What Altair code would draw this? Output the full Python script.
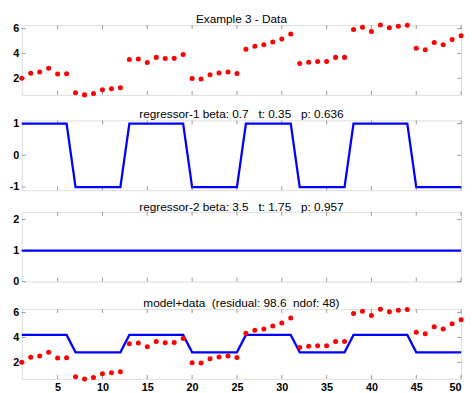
import altair as alt
import pandas as pd

# ---- data ----
X_VALS = list(range(1, 51))
DATA_VALS = [2.00, 2.40, 2.50, 2.81, 2.34, 2.36, 0.84, 0.66, 0.78, 1.07,
             1.15, 1.23, 3.50, 3.55, 3.26, 3.68, 3.58, 3.60, 3.92, 1.97,
             1.94, 2.28, 2.42, 2.50, 2.38, 4.34, 4.58, 4.69, 4.92, 5.16,
             5.56, 3.19, 3.29, 3.34, 3.34, 3.68, 3.68, 5.92, 6.11, 5.76,
             6.28, 6.06, 6.19, 6.26, 4.42, 4.29, 4.87, 4.69, 5.11, 5.42]
REG1_VALS = [1, 1, 1, 1, 1, 1, -1, -1, -1, -1, -1, -1,
             1, 1, 1, 1, 1, 1, 1, -1, -1, -1, -1, -1, -1,
             1, 1, 1, 1, 1, 1, -1, -1, -1, -1, -1, -1,
             1, 1, 1, 1, 1, 1, 1, -1, -1, -1, -1, -1, -1]
REG2_VALS = [1] * 50
MODEL_VALS = [4.2, 4.2, 4.2, 4.2, 4.2, 4.2, 2.8, 2.8, 2.8, 2.8, 2.8, 2.8,
              4.2, 4.2, 4.2, 4.2, 4.2, 4.2, 4.2, 2.8, 2.8, 2.8, 2.8, 2.8, 2.8,
              4.2, 4.2, 4.2, 4.2, 4.2, 4.2, 2.8, 2.8, 2.8, 2.8, 2.8, 2.8,
              4.2, 4.2, 4.2, 4.2, 4.2, 4.2, 4.2, 2.8, 2.8, 2.8, 2.8, 2.8, 2.8]

X_TICKS = [5, 10, 15, 20, 25, 30, 35, 40, 45, 50]
Y_TICKS_DATA = [2, 4, 6]
Y_TICKS_REG1 = [-1, 0, 1]
Y_TICKS_REG2 = [0, 1, 2]

NB = "\u00a0"
TITLES = ["Example 3 - Data",
          f"regressor-1 beta: 0.7 {NB}{NB}t: 0.35 {NB}{NB}p: 0.636",
          f"regressor-2 beta: 3.5 {NB}{NB}t: 1.75 {NB}{NB}p: 0.957",
          f"model+data {NB}(residual: 98.6 {NB}ndof: 48)"]

W, H = 447, 71
FONT = "Liberation Sans"
TICK_COLOR = "#999999"

df_data = pd.DataFrame({"x": X_VALS, "y": DATA_VALS})
df_reg1 = pd.DataFrame({"x": X_VALS, "y": REG1_VALS})
df_reg2 = pd.DataFrame({"x": X_VALS, "y": REG2_VALS})
df_model = pd.DataFrame({"x": X_VALS, "y": MODEL_VALS})
df_xt = pd.DataFrame({"x": X_TICKS})


def panel(layers_spec, ydomain, yticks, title, show_x):
    xscale = alt.Scale(domain=[1, 50], nice=False, zero=False)
    yscale = alt.Scale(domain=ydomain, nice=False, zero=False)
    if show_x:
        xaxis = alt.Axis(values=X_TICKS, ticks=False, domain=False, grid=False,
                         labelFontWeight="bold", labelFontSize=11, labelFont=FONT,
                         labelPadding=3, labelColor="black", title=None)
    else:
        xaxis = None
    yaxis = alt.Axis(values=yticks, ticks=False, domain=False, grid=False,
                     labelFontWeight="bold", labelFontSize=11, labelFont=FONT,
                     labelPadding=3, labelColor="black", title=None,
                     labelExpr="'' + datum.value")
    X = lambda f: alt.X(f"{f}:Q", scale=xscale, axis=xaxis)
    Y = lambda f: alt.Y(f"{f}:Q", scale=yscale, axis=yaxis)

    df_yt = pd.DataFrame({"y": yticks})
    layers = []
    layers.append(alt.Chart(df_xt).mark_rule(color=TICK_COLOR, strokeWidth=1).encode(
        x=X("x"), y=alt.value(H), y2=alt.value(H - 4)))
    layers.append(alt.Chart(df_xt).mark_rule(color=TICK_COLOR, strokeWidth=1).encode(
        x=X("x"), y=alt.value(0), y2=alt.value(4)))
    layers.append(alt.Chart(df_yt).mark_rule(color=TICK_COLOR, strokeWidth=1).encode(
        y=Y("y"), x=alt.value(0), x2=alt.value(4)))
    layers.append(alt.Chart(df_yt).mark_rule(color=TICK_COLOR, strokeWidth=1).encode(
        y=Y("y"), x=alt.value(W), x2=alt.value(W - 4)))
    for kind, df in layers_spec:
        if kind == "line":
            layers.append(alt.Chart(df).mark_line(color="#0000ff", strokeWidth=2.3).encode(
                x=X("x"), y=Y("y")))
        else:
            layers.append(alt.Chart(df).mark_circle(color="#ff0000", opacity=1, size=26).encode(
                x=X("x"), y=Y("y")))
    return alt.layer(*layers).properties(
        width=W, height=H,
        title=alt.TitleParams(title, fontSize=12, font=FONT, fontWeight="normal",
                              color="black", offset=-3))


p1 = panel([("pt", df_data)], [0.66, 6.28], Y_TICKS_DATA, TITLES[0], False)
p2 = panel([("line", df_reg1)], [-1.1, 1.1], Y_TICKS_REG1, TITLES[1], False)
p3 = panel([("line", df_reg2)], [0, 2.25], Y_TICKS_REG2, TITLES[2], False)
p4 = panel([("line", df_model), ("pt", df_data)], [0.66, 6.28], Y_TICKS_DATA, TITLES[3], True)

chart = alt.vconcat(p1, p2, p3, p4, spacing=8).properties(
    padding=0
).configure_view(
    stroke="black", strokeWidth=1
).configure(background="white")

chart.save("out.html", embed_options={"renderer": "svg", "actions": False})
